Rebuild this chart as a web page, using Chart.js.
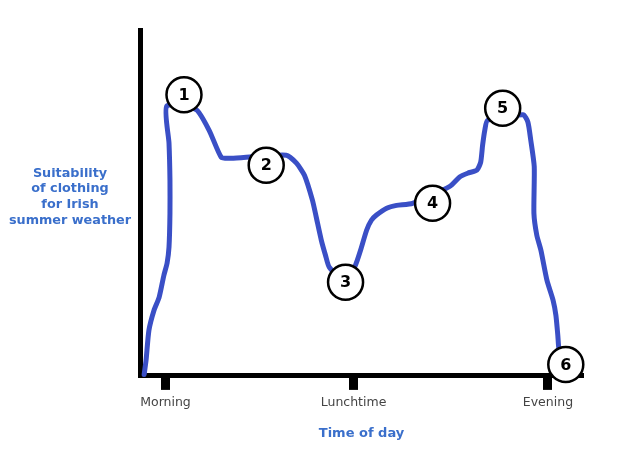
<!DOCTYPE html>
<html>
<head>
<meta charset="utf-8">
<script src="https://cdn.jsdelivr.net/npm/chart.js@4/dist/chart.umd.min.js"></script>
<style>
  html, body { margin: 0; padding: 0; background: #fff; }
  #wrap { width: 630px; height: 458px; }
</style>
</head>
<body>
<div id="wrap"><canvas id="chart"></canvas></div>
<script>
// hours of the day along the hand drawn curve, and how suitable the clothes are (0-100)
const curveHours = [6.33, 6.39, 6.48, 6.64, 6.80, 6.95, 7.05, 7.11, 7.14, 7.14, 7.11, 7.04,
    7.96, 8.37, 8.75, 9.0, 9.53, 10.79, 11.11, 11.36, 11.61, 11.73, 11.89, 12.02, 12.14,
    12.65, 12.96, 13.12, 13.31, 13.46, 13.62, 13.94, 14.25, 14.75, 15.92, 16.23, 16.48,
    16.77, 16.89, 16.95, 17.02, 17.11, 18.22, 18.37, 18.46, 18.57, 18.56, 18.65,
    18.78, 18.97, 19.16, 19.25, 19.31, 19.35, 19.5];
const curveSuitability = [0.4, 4.5, 13.2, 19.0, 22.7, 29.1, 32.6, 37.2, 47.0, 56.6, 67.3, 78.0,
    77.0, 71.0, 63.2, 62.9, 63.2, 63.8, 61.5, 58.0, 50.8, 45.9, 39.2, 34.9, 31.4,
    27.1, 32.0, 36.3, 42.1, 45.0, 46.5, 48.5, 49.3, 49.9, 54.8, 57.5, 58.6,
    59.5, 61.8, 66.7, 71.1, 73.9, 75.5, 73.4, 68.2, 60.5, 47.0, 40.7,
    36.3, 27.6, 21.9, 17.5, 11.7, 7.4, 4.0];

// numbered circles
const markerHours = [7.58, 10.16, 12.65, 15.38, 17.58, 19.56];
const markerSuitability = [81.3, 60.9, 27.1, 49.9, 77.4, 3.3];
const markerLabels = ['1', '2', '3', '4', '5', '6'];

// x axis ticks
const tickHours = [7, 12.9, 19];
const tickLabels = ['Morning', 'Lunchtime', 'Evening'];

const yTitleLines = ['Suitability', 'of clothing', 'for Irish', 'summer weather'];
const xTitle = 'Time of day';

const lineBlue = '#3a4fc6';
const titleBlue = '#3a6fcb';

// draws the numbers inside the circles
const markerNumbers = {
    id: 'markerNumbers',
    afterDatasetsDraw(chart) {
        const ctx = chart.ctx;
        const meta = chart.getDatasetMeta(0);
        ctx.save();
        ctx.font = 'bold 16px "DejaVu Sans"';
        ctx.fillStyle = '#000';
        ctx.textAlign = 'center';
        ctx.textBaseline = 'middle';
        meta.data.forEach((pt, i) => {
            ctx.fillText(markerLabels[i], pt.x, pt.y + 1);
        });
        ctx.restore();
    }
};

// horizontal y axis title on the left
const sideTitle = {
    id: 'sideTitle',
    afterDraw(chart) {
        const ctx = chart.ctx;
        const area = chart.chartArea;
        ctx.save();
        ctx.font = 'bold 12.8px "DejaVu Sans"';
        ctx.fillStyle = titleBlue;
        ctx.textAlign = 'center';
        ctx.textBaseline = 'middle';
        const lh = 15.8;
        const mid = (area.top + area.bottom) / 2 - 6;
        const x = area.left / 2;
        yTitleLines.forEach((line, i) => {
            ctx.fillText(line, x, mid + (i - (yTitleLines.length - 1) / 2) * lh);
        });
        ctx.restore();
    }
};

const curvePoints = curveHours.map((h, i) => ({x: h, y: curveSuitability[i]}));
const markerPoints = markerHours.map((h, i) => ({x: h, y: markerSuitability[i]}));

new Chart(document.getElementById('chart'), {
    type: 'scatter',
    data: {
        datasets: [
            {
                data: markerPoints,
                showLine: false,
                pointRadius: 17.5,
                pointHoverRadius: 17.5,
                pointBorderWidth: 2.5,
                pointBorderColor: '#000',
                pointBackgroundColor: '#fff',
                clip: false
            },
            {
                data: curvePoints,
                showLine: true,
                borderColor: lineBlue,
                borderWidth: 5,
                tension: 0.2,
                pointRadius: 0,
                borderCapStyle: 'round',
                borderJoinStyle: 'round',
                clip: false
            }
        ]
    },
    options: {
        responsive: true,
        maintainAspectRatio: false,
        animation: false,
        events: [],
        layout: {
            padding: {left: 140, right: 47, top: 30, bottom: 17}
        },
        plugins: {
            legend: {display: false},
            tooltip: {enabled: false}
        },
        scales: {
            x: {
                type: 'linear',
                min: 6.2,
                max: 20.1,
                afterBuildTicks: (axis) => {
                    axis.ticks = tickHours.map(v => ({value: v}));
                },
                ticks: {
                    autoSkip: false,
                    maxRotation: 0,
                    padding: 5,
                    color: '#444',
                    font: {family: 'DejaVu Sans', size: 12.5},
                    callback: (value) => {
                        const i = tickHours.indexOf(value);
                        return i >= 0 ? tickLabels[i] : '';
                    }
                },
                grid: {
                    drawOnChartArea: false,
                    drawTicks: true,
                    tickLength: 14,
                    tickWidth: 9,
                    tickColor: '#000'
                },
                border: {color: '#000', width: 5},
                title: {
                    display: true,
                    text: xTitle,
                    color: titleBlue,
                    font: {family: 'DejaVu Sans', size: 13, weight: 'bold'},
                    padding: {top: 10.5, bottom: 0}
                }
            },
            y: {
                min: 0,
                max: 100,
                ticks: {display: false},
                grid: {drawOnChartArea: false, drawTicks: false},
                border: {color: '#000', width: 5}
            }
        }
    },
    plugins: [markerNumbers, sideTitle]
});
</script>
</body>
</html>
